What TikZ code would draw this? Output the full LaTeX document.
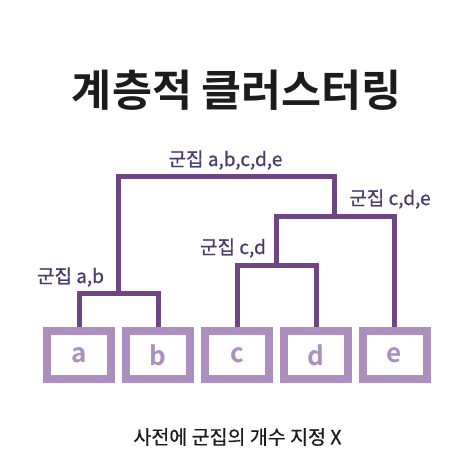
\documentclass[tikz,border=0pt]{standalone}
\usepackage{fontspec}
\setmainfont{Noto Sans CJK KR}[BoldFont={* Bold}]
\newfontfamily\medkr{Noto Sans CJK KR}[FakeBold=0.6]
\definecolor{linepurple}{HTML}{6E4682}
\definecolor{boxpurple}{HTML}{AC8FBF}
\definecolor{labelpurple}{HTML}{4C3B6C}
\definecolor{titleblack}{HTML}{1C1C1C}
\begin{document}
\begin{tikzpicture}[x=1pt,y=-1pt,
  leafbox/.style={draw=boxpurple,line width=8pt,fill=white,minimum width=64pt,minimum height=48pt,inner sep=0pt,text=boxpurple,font=\fontsize{26}{30}\selectfont\bfseries},
  treeline/.style={draw=linepurple,line width=5pt,line join=miter,line cap=butt},
  clabel/.style={text=labelpurple,font=\medkr\fontsize{19}{22}\selectfont,inner sep=0pt}]
\useasboundingbox[fill=white] (0,0) rectangle (474,474);
\node[text=titleblack,font=\fontsize{43.5}{50}\selectfont\bfseries] (title) at (237,90) {계층적 클러스터링};
\node[leafbox] (a) at (79,355) {a};
\node[leafbox] (b) at (158,355) {b};
\node[leafbox] (c) at (237,355) {c};
\node[leafbox] (d) at (316,355) {d};
\node[leafbox] (e) at (394.5,355) {e};
\coordinate (ab) at (118,293);
\coordinate (cd) at (276,265);
\coordinate (cde) at (334,216);
\coordinate (top) at (118,176);
\draw[treeline] (a.north) -- (a.north |- ab) -- (b.north |- ab) -- (b.north);
\draw[treeline] (c.north) -- (c.north |- cd) -- (d.north |- cd) -- (d.north);
\draw[treeline] (cd) -- (cd |- cde) -- (e.north |- cde) -- (e.north);
\draw[treeline] (ab) -- (top) -- (cde |- top) -- (cde);
\node[clabel] (lab) at (70.5,277) {군집 a,b};
\node[clabel] (lcd) at (233,248) {군집 c,d};
\node[clabel] (lcde) at (390,199) {군집 c,d,e};
\node[clabel] (lall) at (225.5,160) {군집 a,b,c,d,e};
\node[text=titleblack,font=\medkr\fontsize{19.5}{23}\selectfont,inner sep=0pt] (note) at (237.5,437) {사전에 군집의 개수 지정 X};
\end{tikzpicture}
\end{document}
